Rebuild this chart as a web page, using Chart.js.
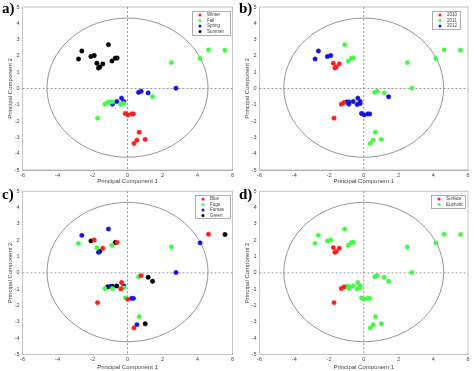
<!DOCTYPE html>
<html>
<head>
<meta charset="utf-8">
<script src="https://cdn.jsdelivr.net/npm/chart.js@4/dist/chart.umd.min.js"></script>
<style>
  body { margin: 0; background: #fff; }
  #wrap { position: relative; width: 474px; height: 371px; overflow: hidden; }
  .panel { position: absolute; }
  .tag { position: absolute; font: bold 15px "Liberation Serif", serif; color: #000; }
</style>
</head>
<body>
<div id="wrap">
  <canvas class="panel" id="pa" width="237" height="185" style="left:0;top:0"></canvas>
  <canvas class="panel" id="pb" width="237" height="185" style="left:237px;top:0"></canvas>
  <canvas class="panel" id="pc" width="237" height="186" style="left:0;top:185px"></canvas>
  <canvas class="panel" id="pd" width="237" height="186" style="left:237px;top:185px"></canvas>
  <div class="tag" style="left:2px;top:0">a)</div>
  <div class="tag" style="left:239px;top:0">b)</div>
  <div class="tag" style="left:2px;top:186px">c)</div>
  <div class="tag" style="left:239px;top:186px">d)</div>
</div>
<script>
// PCA scores (same 40 samples in every panel)
const pc1 = [
  -2.61, -2.80, -2.09, -1.90, -1.75, -1.66, -1.58, -1.41, -1.09, -0.89, -0.70, -0.59,
  2.51, 4.15, 4.63, 5.57, 1.43, -1.29, -1.14, -0.99, -0.86, -0.38, -0.21, -1.71,
  0.63, 0.78, 1.18, 2.77, -0.34, -0.21, -0.61, -0.86,
  -0.13, 0.02, 0.23, 0.34, 0.67, 0.54, 0.37, 1.01
];
const pc2 = [
  2.30, 1.81, 1.96, 2.02, 1.55, 1.26, 1.32, 1.51, 2.69, 1.69, 1.86, 1.87,
  1.59, 1.84, 2.37, 2.35, -0.51, -0.96, -0.86, -0.82, -0.82, -0.98, -0.92, -1.82,
  -0.24, -0.17, -0.27, 0.02, -0.59, -0.80, -0.80, -0.96,
  -1.53, -1.62, -1.56, -1.56, -2.68, -3.17, -3.37, -3.12
];

// group labels for each panel
const seasonLabels = ['Winter', 'Fall', 'Spring', 'Summer'];
const season = [
  3, 3, 3, 3, 3, 3, 3, 3, 3, 3, 3, 3,
  1, 1, 1, 1, 1, 1, 1, 1, 1, 1, 1, 1,
  2, 2, 2, 2, 2, 2, 2, 2,
  0, 0, 0, 0, 0, 0, 0, 0
];
const yearLabels = ['2010', '2011', '2012'];
const year = [
  2, 2, 2, 2, 0, 0, 0, 0, 1, 1, 1, 1,
  1, 1, 1, 1, 2, 0, 0, 2, 2, 2, 2, 0,
  1, 1, 1, 1, 2, 2, 2, 2,
  2, 2, 2, 2, 1, 1, 1, 1
];
const lakeLabels = ['Blue', 'Fogo', 'Furnas', 'Green'];
const lake = [
  2, 1, 3, 0, 1, 2, 3, 0, 2, 1, 3, 0,
  1, 2, 0, 3, 3, 1, 3, 2, 3, 0, 1, 0,
  1, 0, 3, 2, 0, 2, 3, 1,
  1, 0, 2, 2, 1, 2, 0, 3
];
const depthLabels = ['Surface', 'Euphotic'];
const depth = year.map(v => v === 0 ? 0 : 1);

const xTicks = [-6, -4, -2, 0, 2, 4, 6];
const yTicks = [-5, -4, -3, -2, -1, 0, 1, 2, 3, 4, 5];

const colors = ['#ff1e1e', '#46f846', '#1414dc', '#000000'];

const guides = {
  id: 'guides',
  beforeDatasetsDraw(chart) {
    const { ctx, chartArea: a, scales: { x, y } } = chart;
    ctx.save();
    ctx.strokeStyle = '#c4c4c4';
    ctx.lineWidth = 1;
    ctx.strokeRect(a.left, a.top, a.right - a.left, a.bottom - a.top);
    ctx.strokeStyle = '#999';
    ctx.setLineDash([2, 2]);
    ctx.beginPath();
    ctx.moveTo(x.getPixelForValue(0), a.top);
    ctx.lineTo(x.getPixelForValue(0), a.bottom);
    ctx.moveTo(a.left, y.getPixelForValue(0));
    ctx.lineTo(a.right, y.getPixelForValue(0));
    ctx.stroke();
    ctx.setLineDash([]);
    const cx = x.getPixelForValue(0), cy = y.getPixelForValue(0.05);
    const rx = x.getPixelForValue(4.6) - cx, ry = cy - y.getPixelForValue(4.32);
    ctx.strokeStyle = '#8a8a8a';
    ctx.lineWidth = 0.9;
    ctx.beginPath();
    ctx.ellipse(cx, cy, rx, ry, 0, 0, Math.PI * 2);
    ctx.stroke();
    ctx.restore();
  },
  afterDraw(chart, args, opts) {
    const { ctx } = chart;
    const b = opts.box;
    ctx.save();
    ctx.fillStyle = '#fff';
    ctx.fillRect(b[0], b[1], b[2], b[3]);
    ctx.strokeStyle = '#999';
    ctx.lineWidth = 0.8;
    ctx.strokeRect(b[0] + 0.5, b[1] + 0.5, b[2], b[3]);
    ctx.font = '4.5px "Liberation Sans", Arial, sans-serif';
    ctx.textBaseline = 'middle';
    chart.data.datasets.forEach((ds, i) => {
      const ry = b[1] + 4 + i * 5.5;
      ctx.fillStyle = ds.backgroundColor;
      ctx.beginPath();
      ctx.arc(b[0] + 8, ry, 1.5, 0, Math.PI * 2);
      ctx.fill();
      ctx.fillStyle = '#444';
      ctx.fillText(ds.label, b[0] + 15, ry);
    });
    ctx.restore();
  }
};

function makePanel(id, groups, labels, pad, xh, box) {
  const datasets = labels.map((lab, g) => ({
    label: lab,
    data: pc1.map((v, i) => ({ x: v, y: pc2[i], g: groups[i] }))
      .filter(p => p.g === g),
    backgroundColor: colors[g],
    borderColor: colors[g],
    borderWidth: 0.5,
    pointRadius: 2.2
  }));
  new Chart(document.getElementById(id), {
    type: 'scatter',
    data: { datasets },
    plugins: [guides],
    options: {
      responsive: false,
      animation: false,
      devicePixelRatio: 1,
      layout: { padding: pad },
      plugins: {
        legend: { display: false },
        tooltip: { enabled: false },
        guides: { box }
      },
      scales: {
        x: {
          type: 'linear', min: -6, max: 6,
          afterBuildTicks: s => { s.ticks = xTicks.map(v => ({ value: v })); },
          afterFit: s => { s.height = xh; },
          grid: { display: false, drawTicks: false },
          border: { display: true, color: '#999' },
          ticks: { font: { size: 5.5, family: 'Liberation Sans' }, color: '#444', padding: 2, maxRotation: 0 },
          title: { display: true, text: 'Principal Component 1', font: { size: 6, family: 'Liberation Sans' }, color: '#444', padding: 0 }
        },
        y: {
          type: 'linear', min: -5, max: 5,
          afterBuildTicks: s => { s.ticks = yTicks.map(v => ({ value: v })); },
          afterFit: s => { s.width = 22.5; },
          grid: { display: false, drawTicks: false },
          border: { display: true, color: '#999' },
          ticks: { font: { size: 5.5, family: 'Liberation Sans' }, color: '#444', padding: 3 },
          title: { display: true, text: 'Principal Component 2', font: { size: 6, family: 'Liberation Sans' }, color: '#444', padding: { top: 7, bottom: 0 } }
        }
      }
    }
  });
}

makePanel('pa', season, seasonLabels, { top: 7, right: 4, left: 0, bottom: 0 }, 15, [192, 11, 38, 24]);
makePanel('pb', year, yearLabels, { top: 7, right: 6, left: 0, bottom: 0 }, 15, [195, 11, 28, 18]);
makePanel('pc', lake, lakeLabels, { top: 6, right: 4, left: 0, bottom: 0 }, 16.5, [195, 10, 35, 23]);
makePanel('pd', depth, depthLabels, { top: 6, right: 6, left: 0, bottom: 0 }, 16.5, [194, 10, 34, 13]);
</script>
</body>
</html>
